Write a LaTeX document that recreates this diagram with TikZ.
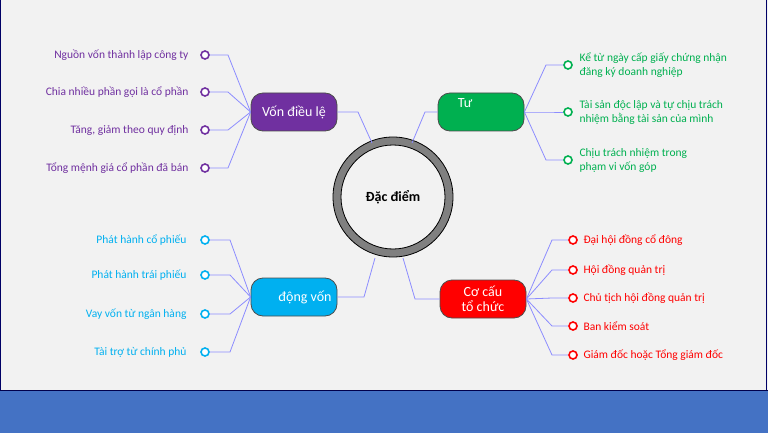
\documentclass[tikz,border=0pt]{standalone}
\usepackage{fontspec}
\setmainfont{Carlito}
\begin{document}
\begin{tikzpicture}[x=1pt,y=-1pt,
 lnk/.style={draw=blue!45!white,line width=0.8pt},
 bul/.style={circle,draw=#1,line width=1.6pt,fill=white,minimum size=8pt,inner sep=0pt},
 box/.style={rounded corners=12pt,fill=#1,draw=black!70,line width=0.8pt,minimum width=86pt,minimum height=38pt,text=white,font=\fontsize{14}{15}\selectfont},
 lt/.style={font=\fontsize{11.5}{14}\selectfont,text=#1,align=left}]
\definecolor{pur}{HTML}{7030A0}\definecolor{grn}{HTML}{00B050}
\definecolor{cyn}{HTML}{00B0F0}\definecolor{rd}{HTML}{FF0000}
\definecolor{bg}{HTML}{F2F2F2}\definecolor{band}{HTML}{4472C4}
\useasboundingbox (0,0) rectangle (768,433);
\fill[bg] (0,0) rectangle (768,390);
\draw[draw=black!60!blue,line width=1pt] (0.5,0) -- (0.5,390) (766,0) -- (766,390);
\fill[band] (0,390) rectangle (768,433);
\draw[black!70!blue,line width=1pt] (0,390) -- (768,390);
% center
\node[circle,minimum size=112pt,draw=black!50,line width=8pt] (c) at (393,197) {};
\draw[black,line width=0.8pt] (393,197) circle (60) (393,197) circle (52);
\node[font=\bfseries\fontsize{14}{16}\selectfont] (ct) at (393,197) {Đặc điểm};
% boxes
\node[box=pur] (v) at (294,112) {Vốn điều lệ};
\node[box=grn] (t) at (481,112) {};
\node[text=white,font=\fontsize{14}{15}\selectfont] (tt) at (465,103) {Tư};
\node[box=cyn] (d) at (294,297) {\hspace*{22pt}động vốn};
\node[box=rd,align=center,font=\fontsize{14}{15}\selectfont] (k) at (483,299) {Cơ cấu\\tổ chức};
% center links
\coordinate (e1) at (358,112); \coordinate (e2) at (425,112);
\coordinate (e3) at (364,297); \coordinate (e4) at (415,299);
\draw[lnk] (v.east) -- (e1) -- (372,143);
\draw[lnk] (t.west) -- (e2) -- (412,143);
\draw[lnk] (d.east) -- (e3) -- (375,258);
\draw[lnk] (k.west) -- (e4) -- (403,258);
% purple
\foreach \i/\y/\txt in {1/55/Nguồn vốn thành lập công ty,2/92/Chia nhiều phần gọi là cổ phần,3/130/{Tăng, giảm theo quy định},4/168/Tổng mệnh giá cổ phần đã bán}{
 \node[bul=pur] (p\i) at (205,\y) {};
 \node[lt=pur,anchor=east] (pt\i) at (192,\y) {\txt};
 \coordinate (pe\i) at (228,\y);
 \draw[lnk] (v.west) -- (pe\i) -- (p\i);}
% green
\foreach \i/\y/\txt in {1/65/{Kể từ ngày cấp giấy chứng nhận\\đăng ký doanh nghiệp},2/112/{Tài sản độc lập và tự chịu trách\\nhiệm bằng tài sản của mình},3/160/{Chịu trách nhiệm trong\\phạm vi vốn góp}}{
 \node[bul=grn] (g\i) at (568,\y) {};
 \node[lt=grn,anchor=west] (gt\i) at (576,\y) {\txt};
 \coordinate (ge\i) at (546,\y);
 \draw[lnk] (t.east) -- (ge\i) -- (g\i);}
% cyan
\foreach \i/\y/\txt in {1/240/Phát hành cổ phiếu,2/275/Phát hành trái phiếu,3/314/Vay vốn từ ngân hàng,4/352/Tài trợ từ chính phủ}{
 \node[bul=cyn] (c\i) at (205,\y) {};
 \node[lt=cyn,anchor=east] (ctt\i) at (190,\y) {\txt};
 \coordinate (ce\i) at (230,\y);
 \draw[lnk] (d.west) -- (ce\i) -- (c\i);}
% red
\foreach \i/\y/\txt in {1/240/Đại hội đồng cổ đông,2/270/Hội đồng quản trị,3/298/Chủ tịch hội đồng quản trị,4/326/Ban kiểm soát,5/355/Giám đốc hoặc Tổng giám đốc}{
 \node[bul=rd] (r\i) at (573,\y) {};
 \node[lt=rd,anchor=west] (rt\i) at (580,\y) {\txt};
 \coordinate (re\i) at (552,\y);
 \draw[lnk] (k.east) -- (re\i) -- (r\i);}
\end{tikzpicture}
\end{document}
